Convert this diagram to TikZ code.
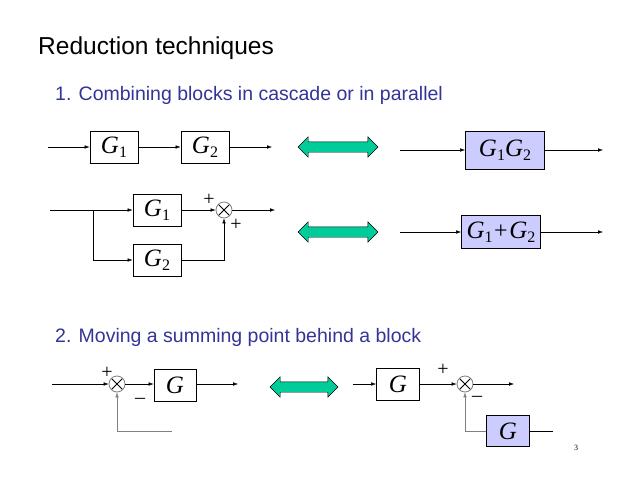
\documentclass[tikz,border=0pt]{standalone}
\usepackage{fontspec}
\setmainfont{Liberation Sans}
\newfontfamily\tmsfont{Liberation Serif}
\usetikzlibrary{arrows.meta,shapes.arrows}
\definecolor{subblue}{RGB}{51,51,153}
\definecolor{boxfill}{RGB}{204,204,255}
\definecolor{arrgreen}{RGB}{0,204,153}
\newcommand{\gv}[1]{{\tmsfont\fontsize{25}{25}\selectfont\itshape #1}}
\newcommand{\gs}[1]{{\tmsfont\fontsize{16}{16}\selectfont #1}}
\tikzset{
  blk/.style={draw,thick,minimum height=32pt,inner sep=2pt},
  fblk/.style={blk,fill=boxfill},
  sumpt/.style={draw,gray,thick,circle,minimum size=16pt,inner sep=0pt,path picture={
      \draw[black] (path picture bounding box.north west) -- (path picture bounding box.south east)
        (path picture bounding box.south west) -- (path picture bounding box.north east);}},
  sig/.style={-{Latex[length=5pt,width=3.5pt]},thin},
  dbl/.style={draw=black,fill=arrgreen,double arrow,double arrow head extend=5pt,double arrow head indent=0pt,minimum height=80pt,inner xsep=0pt,inner ysep=5pt,text height=0pt,text depth=0pt},
  sgn/.style={font=\tmsfont\fontsize{20}{20}\selectfont,inner sep=0pt}
}
\begin{document}
\begin{tikzpicture}[x=1pt,y=-1pt]
\useasboundingbox (0,0) rectangle (638,479);
\node[anchor=west,inner sep=0pt,font=\fontsize{24.5}{28}\selectfont] (title) at (38,48) {Reduction techniques};
\node[anchor=west,inner sep=0pt,text=subblue,font=\fontsize{19.5}{22}\selectfont] (sub1) at (55,95) {1. Combining blocks in cascade or in parallel};
\node[anchor=west,inner sep=0pt,text=subblue,font=\fontsize{19.5}{22}\selectfont] (sub2) at (55,337) {2. Moving a summing point behind a block};

% cascade
\coordinate (in1) at (48,147);
\node[blk,minimum width=48pt] (g1) at (114,147) {\gv{G}\gs{\raisebox{-4pt}{1}}};
\node[blk,minimum width=48pt] (g2) at (205,147) {\gv{G}\gs{\raisebox{-4pt}{2}}};
\coordinate (out1) at (272,147);
\draw[sig] (in1) -- (g1);
\draw[sig] (g1) -- (g2);
\draw[sig] (g2) -- (out1);
\node[dbl] (eq1) at (338,147) {};
\coordinate (in1r) at (400,150);
\node[fblk,minimum width=79pt,minimum height=38pt] (g12) at (505,150) {\gv{G}\gs{\raisebox{-4pt}{1}}\gv{G}\gs{\raisebox{-4pt}{2}}};
\coordinate (out1r) at (603,150);
\draw[sig] (in1r) -- (g12);
\draw[sig] (g12) -- (out1r);

% parallel
\coordinate (in2) at (50,210);
\coordinate (br2) at (93,210);
\node[blk,minimum width=48pt] (p1) at (157,210) {\gv{G}\gs{\raisebox{-4pt}{1}}};
\node[blk,minimum width=48pt] (p2) at (157,260) {\gv{G}\gs{\raisebox{-4pt}{2}}};
\node[sumpt] (s2) at (224,210) {};
\coordinate (out2) at (275,210);
\draw (in2) -- (br2);
\draw[sig] (br2) -- (p1);
\draw[sig] (br2) |- (p2);
\draw[sig] (p1) -- (s2);
\draw[sig] (p2) -| (s2);
\draw[sig] (s2) -- (out2);
\node[sgn] at (209,200) {+};
\node[sgn] at (236,225) {+};
\node[dbl] (eq2) at (338,232) {};
\coordinate (in2r) at (400,232);
\node[fblk,minimum width=79pt,minimum height=33pt,inner sep=1pt] (gsum) at (501,232) {\gv{G}\gs{\raisebox{-4pt}{1}}\,{\tmsfont\fontsize{24}{24}\selectfont+}\,\gv{G}\gs{\raisebox{-4pt}{2}}};
\coordinate (out2r) at (603,232);
\draw[sig] (in2r) -- (gsum);
\draw[sig] (gsum) -- (out2r);

% moving summing point
\coordinate (in3) at (52,384);
\node[sumpt] (s3) at (117,384) {};
\node[blk,minimum width=42pt] (g3) at (175,385) {\gv{G}};
\coordinate (out3) at (238,384);
\coordinate (fb3) at (117,431);
\coordinate (fe3) at (172,431);
\draw[sig] (in3) -- (s3);
\draw[sig] (s3) -- (g3.west |- s3);
\draw[sig] (g3.east |- s3) -- (out3);
\draw[sig,gray] (fe3) -- (fb3) -- (s3);
\node[sgn] at (107,373) {+};
\node[sgn] at (140,401) {–};
\node[dbl,minimum height=68pt] (eq3) at (304,387) {};
\coordinate (in3r) at (353,384);
\node[blk,minimum width=43pt] (g4) at (398,384) {\gv{G}};
\node[sumpt] (s4) at (465,384) {};
\coordinate (out4) at (514,384);
\node[fblk,minimum width=43pt,minimum height=31pt] (g5) at (508,431) {\gv{G}};
\coordinate (fi4) at (553,431);
\draw[sig] (in3r) -- (g4);
\draw[sig] (g4) -- (s4);
\draw[sig] (s4) -- (out4);
\draw (fi4) -- (g5);
\draw[sig,gray] (g5) -| (s4);
\node[sgn] at (443,370) {+};
\node[sgn] at (477,399) {–};
\node[font=\tmsfont\fontsize{8}{8}\selectfont] (pg) at (576,448) {3};
\end{tikzpicture}
\end{document}
